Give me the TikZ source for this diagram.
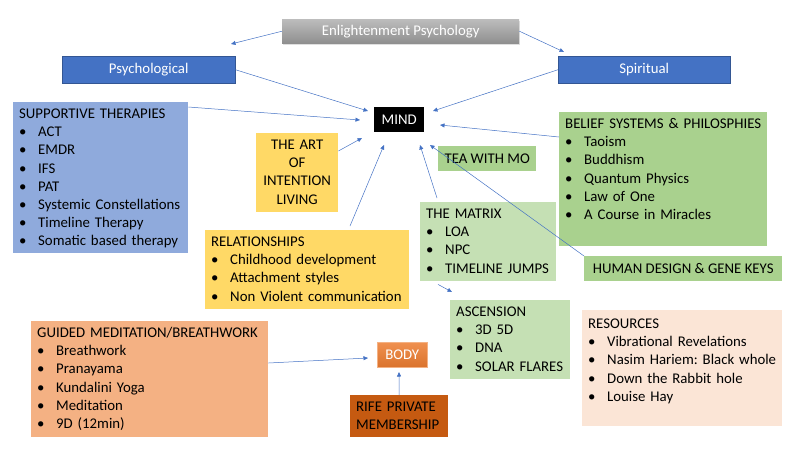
\documentclass[tikz,border=0pt]{standalone}
\usepackage{fontspec}
\setmainfont{Carlito}
\frenchspacing
\usetikzlibrary{arrows.meta,calc,shadows}
\definecolor{pblue}{HTML}{4472C4}
\definecolor{supblue}{HTML}{8FAADC}
\definecolor{ygold}{HTML}{FFD966}
\definecolor{mgreen}{HTML}{A9D18E}
\definecolor{lgreen}{HTML}{C5E0B4}
\definecolor{peach}{HTML}{F4B183}
\definecolor{lpeach}{HTML}{FBE5D6}
\definecolor{borange}{HTML}{ED7D31}
\definecolor{rust}{HTML}{C55A11}
\newcommand{\itm}[1]{\makebox[19pt][l]{\textbullet}\mbox{#1}}
\tikzset{
  panel/.style={anchor=north west, inner xsep=6pt, inner ysep=7pt, text height=9.5pt,
    align=left, font=\fontsize{14.8}{18.1}\selectfont},
  tag/.style={anchor=north west, inner sep=0pt, font=\fontsize{14.8}{18.1}\selectfont},
  link/.style={->, draw=pblue, line width=0.5pt},
}
\begin{document}
\begin{tikzpicture}[x=1pt, y=-1pt, >={Triangle[length=4.5pt,width=4pt]}]
\useasboundingbox (0,0) rectangle (800,448);
% top row
\node[tag, minimum width=237pt, minimum height=24pt, top color=black!26, bottom color=black!44,
  text=white, drop shadow={opacity=.25, shadow xshift=1pt, shadow yshift=-1.5pt}] (title) at (282,19) {Enlightenment Psychology};
\node[tag, fill=pblue, draw=pblue!75!black, text=white, minimum width=173pt, minimum height=27pt] (psych) at (62,56) {Psychological};
\node[tag, fill=pblue, draw=pblue!75!black, text=white, minimum width=172pt, minimum height=27pt] (spirit) at (558,56) {Spiritual};
\node[tag, fill=black, text=white, minimum width=50pt, minimum height=25pt] (mind) at (374,107) {MIND};
% mind side
\node[panel, fill=supblue, text width=163pt, text depth=127.5pt] (sup) at (13,102)
  {\mbox{SUPPORTIVE THERAPIES}\\ \itm{ACT}\\ \itm{EMDR}\\ \itm{IFS}\\ \itm{PAT}\\ \itm{Systemic Constellations}\\ \itm{Timeline Therapy}\\ \itm{Somatic based therapy}};
\node[panel, fill=ygold, align=center, text width=70pt, text depth=55.5pt] (art) at (256,133)
  {THE ART\\ OF\\ INTENTION\\ LIVING};
\node[panel, fill=ygold, text width=192pt, text depth=55.5pt] (rel) at (205,230)
  {RELATIONSHIPS\\ \itm{Childhood development}\\ \itm{Attachment styles}\\ \itm{Non Violent communication}};
\node[tag, fill=mgreen, minimum width=98pt, minimum height=25pt] (tea) at (438,146) {TEA WITH MO};
\node[panel, fill=mgreen, text width=196pt, text depth=110.5pt] (belief) at (559,112)
  {\mbox{BELIEF SYSTEMS \& PHILOSPHIES}\\ \itm{Taoism}\\ \itm{Buddhism}\\ \itm{Quantum Physics}\\ \itm{Law of One}\\ \itm{A Course in Miracles}};
\node[panel, fill=lgreen, text width=124pt, text depth=55.5pt] (matrix) at (420,202)
  {THE MATRIX\\ \itm{LOA}\\ \itm{NPC}\\ \itm{TIMELINE JUMPS}};
\node[tag, fill=mgreen, minimum width=198pt, minimum height=25pt] (human) at (584,256) {HUMAN DESIGN \& GENE KEYS};
\node[panel, fill=lgreen, text width=108pt, text depth=55.5pt] (asc) at (450,300)
  {ASCENSION\\ \itm{3D 5D}\\ \itm{DNA}\\ \itm{SOLAR FLARES}};
\node[panel, fill=lpeach, inner ysep=9pt, text width=188pt, text depth=88.5pt] (res) at (582,310)
  {RESOURCES\\ \itm{Vibrational Revelations}\\ \itm{Nasim Hariem: Black whole}\\ \itm{Down the Rabbit hole}\\ \itm{Louise Hay}};
% body side
\node[panel, fill=peach, text width=225pt, text depth=92.5pt] (guided) at (31,321)
  {\mbox{GUIDED MEDITATION/BREATHWORK}\\ \itm{Breathwork}\\ \itm{Pranayama}\\ \itm{Kundalini Yoga}\\ \itm{Meditation}\\ \itm{9D (12min)}};
\node[tag, top color=borange!85!white, bottom color=borange!92!black, draw=borange!60!white, text=white,
  minimum width=50pt, minimum height=25pt] (body) at (377,342) {BODY};
\node[panel, fill=rust, font=\fontsize{14.8}{17.3}\selectfont, text width=86pt, text depth=18.5pt] (rife) at (350,395)
  {RIFE PRIVATE\\ MEMBERSHIP};
% arrow ends
\coordinate (psyIn) at (231,44);
\coordinate (spiIn) at (564,52);
\coordinate (mindA) at (368,111);
\coordinate (mindB) at (433,111);
\coordinate (mindC) at (360,120);
\coordinate (mindD) at (362,138);
\coordinate (mindE) at (384,145);
\coordinate (mindF) at (420,145);
\coordinate (mindG) at (430,145);
\coordinate (mindH) at (440,125);
\coordinate (ascIn) at (452,292);
\coordinate (bodyA) at (368,358);
\coordinate (bodyB) at (399,372);
% connectors
\draw[link] (title.west) -- (psyIn);
\draw[link] (title.east) -- (spiIn);
\draw[link] (psych.east) -- (mindA);
\draw[link] (spirit.west) -- (mindB);
\draw[link] ($(sup.north east)+(0,5)$) -- (mindC);
\draw[link] ($(art.north east)+(0,18)$) -- (mindD);
\draw[link] ($(rel.north west)+(145,-4)$) -- (mindE);
\draw[link] ($(matrix.north west)+(17,-4)$) -- (mindF);
\draw[link] (human.north west) -- (mindG);
\draw[link] ($(belief.north west)+(0,25)$) -- (mindH);
\draw[link] ($(matrix.south west)+(18,3)$) -- (ascIn);
\draw[link] ($(guided.north east)+(0,42)$) -- (bodyA);
\draw[link] (rife.north) -- (bodyB);
\end{tikzpicture}
\end{document}
